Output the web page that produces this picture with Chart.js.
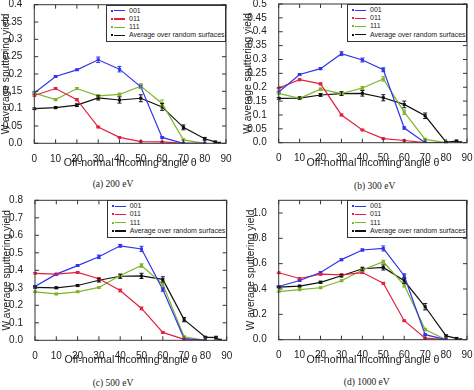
<!DOCTYPE html>
<html>
<head>
<meta charset="utf-8">
<script src="https://cdn.jsdelivr.net/npm/chart.js@4.4.1/dist/chart.umd.min.js"></script>
<style>
  html, body { margin: 0; padding: 0; background: #fff; }
  #fig { position: relative; width: 474px; height: 390px; overflow: hidden; background: #fff; }
  .panel { position: absolute; width: 237px; height: 175px; }
  .panel canvas { position: absolute; left: 0; top: 0; }
  .legend { position: absolute; box-sizing: border-box; border: 1px solid #333; background: #fff;
            font-family: "Liberation Sans", Arial, sans-serif; font-size: 7px; color: #222; padding-top: 1px; }
  .lrow { position: relative; height: 8.2px; line-height: 8.2px; white-space: nowrap; }
  .ldot { position: absolute; left: 4px; top: 3px; width: 2px; height: 2px; }
  .lline { position: absolute; left: 7px; top: 3.6px; width: 11px; height: 1.1px; }
  .ltext { position: absolute; left: 22px; top: 0; }
  .caption { position: absolute; font-family: "Liberation Serif", "Times New Roman", serif; font-size: 9.5px; color: #222;
             transform: translate(-50%, -50%); white-space: nowrap; }
</style>
</head>
<body>
<div id="fig"></div>
<script>
// ---------------- data ----------------
const angles = [0, 10, 20, 30, 40, 50, 60, 70, 80];
const avgAngles = [0, 10, 20, 30, 40, 50, 60, 70, 80, 85, 87];
const seriesNames = ['001', '011', '111', 'Average over random surfaces'];
const xTickValues = [0, 10, 20, 30, 40, 50, 60, 70, 80, 90];
const xTickLabels = ['0', '10', '20', '30', '40', '50', '60', '70', '80', '90'];
const captions = ['(a) 200 eV', '(b) 300 eV', '(c) 500 eV', '(d) 1000 eV'];

// (a) 200 eV
const a001 = [0.145, 0.193, 0.212, 0.241, 0.214, 0.163, 0.017, 0.0, 0.0];
const a011 = [0.138, 0.158, 0.126, 0.047, 0.017, 0.005, 0.004, 0.0, 0.0];
const a111 = [0.145, 0.126, 0.158, 0.137, 0.141, 0.165, 0.115, 0.010, 0.0];
const aAvg = [0.100, 0.103, 0.110, 0.131, 0.125, 0.130, 0.105, 0.046, 0.013, 0.004, 0.0];
const a001Err = [0.003, 0.002, 0.002, 0.008, 0.008, 0.005, 0.002, 0, 0];
const a011Err = [0.002, 0.002, 0.003, 0.002, 0.001, 0.001, 0.001, 0, 0];
const a111Err = [0.003, 0.002, 0.003, 0.003, 0.004, 0.007, 0.010, 0.002, 0];
const aAvgErr = [0.002, 0.002, 0.004, 0.006, 0.009, 0.010, 0.010, 0.007, 0.004, 0.002, 0];
const aYTicks = [0, 0.05, 0.1, 0.15, 0.2, 0.25, 0.3, 0.35, 0.4];
const aYLabels = ['0.0', '0.05', '0.1', '0.15', '0.2', '0.25', '0.3', '0.35', '0.4'];

// (b) 300 eV
const b001 = [0.183, 0.246, 0.267, 0.321, 0.298, 0.263, 0.053, 0.0, 0.0];
const b011 = [0.197, 0.227, 0.212, 0.100, 0.046, 0.015, 0.008, 0.0, 0.0];
const b111 = [0.178, 0.160, 0.193, 0.177, 0.197, 0.230, 0.110, 0.012, 0.0];
const bAvg = [0.160, 0.161, 0.172, 0.177, 0.178, 0.162, 0.138, 0.097, 0.002, 0.006, 0.0];
const b001Err = [0.003, 0.003, 0.003, 0.007, 0.007, 0.007, 0.004, 0, 0];
const b011Err = [0.002, 0.003, 0.003, 0.003, 0.002, 0.001, 0.001, 0, 0];
const b111Err = [0.003, 0.003, 0.004, 0.004, 0.005, 0.008, 0.008, 0.002, 0];
const bAvgErr = [0.003, 0.004, 0.005, 0.007, 0.010, 0.011, 0.012, 0.010, 0.002, 0.003, 0];
const bYTicks = [0, 0.05, 0.1, 0.15, 0.2, 0.25, 0.3, 0.35, 0.4, 0.45, 0.5];
const bYLabels = ['0.0', '0.05', '0.1', '0.15', '0.2', '0.25', '0.3', '0.35', '0.4', '0.45', '0.5'];

// (c) 500 eV
const c001 = [0.308, 0.378, 0.427, 0.477, 0.540, 0.522, 0.290, 0.010, 0.0];
const c011 = [0.383, 0.378, 0.388, 0.352, 0.285, 0.182, 0.045, 0.005, 0.0];
const c111 = [0.277, 0.265, 0.277, 0.302, 0.370, 0.427, 0.320, 0.020, 0.0];
const cAvg = [0.303, 0.300, 0.313, 0.343, 0.366, 0.368, 0.348, 0.118, 0.018, 0.015, 0.0];
const c001Err = [0.005, 0.004, 0.005, 0.010, 0.008, 0.015, 0.010, 0.003, 0];
const c011Err = [0.004, 0.004, 0.004, 0.006, 0.008, 0.008, 0.004, 0.001, 0];
const c111Err = [0.004, 0.004, 0.004, 0.004, 0.008, 0.010, 0.012, 0.004, 0];
const cAvgErr = [0.005, 0.005, 0.006, 0.010, 0.012, 0.015, 0.015, 0.012, 0.004, 0.008, 0];
const cYTicks = [0, 0.1, 0.2, 0.3, 0.4, 0.5, 0.6, 0.7, 0.8];
const cYLabels = ['0.0', '0.1', '0.2', '0.3', '0.4', '0.5', '0.6', '0.7', '0.8'];

// (d) 1000 eV
const d001 = [0.420, 0.467, 0.530, 0.632, 0.708, 0.720, 0.505, 0.040, 0.0];
const d011 = [0.528, 0.483, 0.517, 0.512, 0.530, 0.445, 0.150, 0.012, 0.0];
const d111 = [0.380, 0.395, 0.410, 0.465, 0.550, 0.615, 0.430, 0.080, 0.0];
const dAvg = [0.415, 0.423, 0.453, 0.505, 0.560, 0.570, 0.465, 0.260, 0.030, 0.010, 0.0];
const d001Err = [0.006, 0.006, 0.006, 0.008, 0.008, 0.020, 0.015, 0.005, 0];
const d011Err = [0.005, 0.005, 0.006, 0.006, 0.006, 0.006, 0.005, 0.003, 0];
const d111Err = [0.005, 0.005, 0.005, 0.006, 0.008, 0.012, 0.015, 0.010, 0];
const dAvgErr = [0.006, 0.006, 0.008, 0.010, 0.012, 0.020, 0.020, 0.025, 0.008, 0.008, 0];
const dYTicks = [0, 0.2, 0.4, 0.6, 0.8, 1.0];
const dYLabels = ['0.0', '0.2', '0.4', '0.6', '0.8', '1.0'];

// ---------------- styling / layout ----------------
const colors = ['#2f35ea', '#e3213f', '#7fb42a', '#111111'];
const FONT = '"Liberation Sans", Arial, sans-serif';
const TICK_SIZE = 10, XT_SIZE = 10.6, YT_SIZE = 10.2;

const panels = [
  { pos: [0, 0],   series: [a001, a011, a111, aAvg], errs: [a001Err, a011Err, a111Err, aAvgErr],
    yMax: 0.4, yT: aYTicks, yL: aYLabels, area: { l: 34.3, r: 226, t: 4.7, b: 143.3 }, yTitleX: 6, xTitleY: 163.5, cap: [113, 183.5] },
  { pos: [237, 0], series: [b001, b011, b111, bAvg], errs: [b001Err, b011Err, b111Err, bAvgErr],
    yMax: 0.5, yT: bYTicks, yL: bYLabels, area: { l: 41.7, r: 230, t: 4, b: 142.7 }, yTitleX: 11.3, xTitleY: 163.2, cap: [374.7, 185.5] },
  { pos: [0, 195], series: [c001, c011, c111, cAvg], errs: [c001Err, c011Err, c111Err, cAvgErr],
    yMax: 0.8, yT: cYTicks, yL: cYLabels, area: { l: 35, r: 226.7, t: 5.3, b: 145.3 }, yTitleX: 6.8, xTitleY: 165.5, cap: [113, 383] },
  { pos: [237, 195], series: [d001, d011, d111, dAvg], errs: [d001Err, d011Err, d111Err, dAvgErr],
    yMax: 1.1, yT: dYTicks, yL: dYLabels, area: { l: 41.7, r: 230, t: 5.3, b: 144.7 }, yTitleX: 14.3, xTitleY: 164.8, cap: [366.7, 381.5] }
];

const CW = 237, CH = 175;

// frame + inner mirrored ticks
const framePlugin = {
  id: 'frame',
  afterDatasetsDraw(chart) {
    const { ctx, chartArea: a, scales } = chart;
    ctx.save();
    ctx.strokeStyle = '#333';
    ctx.lineWidth = 1;
    ctx.beginPath();
    scales.y.ticks.forEach(t => {
      const y = scales.y.getPixelForValue(t.value);
      ctx.moveTo(a.left, y); ctx.lineTo(a.left + 4, y);
      ctx.moveTo(a.right, y); ctx.lineTo(a.right - 4, y);
    });
    scales.x.ticks.forEach(t => {
      const x = scales.x.getPixelForValue(t.value);
      ctx.moveTo(x, a.bottom); ctx.lineTo(x, a.bottom - 4);
      ctx.moveTo(x, a.top); ctx.lineTo(x, a.top + 4);
    });
    ctx.stroke();
    ctx.strokeRect(a.left, a.top, a.right - a.left, a.bottom - a.top);
    ctx.restore();
  }
};

// error bars drawn through the scales
const errorPlugin = {
  id: 'errbars',
  afterDatasetsDraw(chart) {
    const { ctx, scales } = chart;
    ctx.save();
    chart.data.datasets.forEach(ds => {
      if (!ds.errors) return;
      ctx.strokeStyle = ds.borderColor;
      ctx.lineWidth = 1;
      ds.data.forEach((p, i) => {
        const e = ds.errors[i];
        if (!e) return;
        const x = scales.x.getPixelForValue(p.x);
        const y1 = scales.y.getPixelForValue(p.y - e);
        const y2 = scales.y.getPixelForValue(p.y + e);
        ctx.beginPath();
        ctx.moveTo(x, y1); ctx.lineTo(x, y2);
        ctx.moveTo(x - 2, y1); ctx.lineTo(x + 2, y1);
        ctx.moveTo(x - 2, y2); ctx.lineTo(x + 2, y2);
        ctx.stroke();
      });
    });
    ctx.restore();
  }
};

const fig = document.getElementById('fig');

panels.forEach((P, pi) => {
  const div = document.createElement('div');
  div.className = 'panel';
  div.style.left = P.pos[0] + 'px';
  div.style.top = P.pos[1] + 'px';
  const cv = document.createElement('canvas');
  cv.width = CW; cv.height = CH;
  cv.style.width = CW + 'px'; cv.style.height = CH + 'px';
  div.appendChild(cv);
  fig.appendChild(div);

  const datasets = P.series.map((vals, si) => {
    const xs = si === 3 ? avgAngles : angles;
    return {
      label: seriesNames[si],
      data: vals.map((v, i) => ({ x: xs[i], y: v })),
      errors: P.errs[si],
      borderColor: colors[si],
      backgroundColor: colors[si],
      borderWidth: 1.2,
      pointStyle: 'rect',
      pointRadius: 1.3,
      pointHoverRadius: 1.3,
      tension: 0,
      fill: false
    };
  });

  const A = P.area;
  const xlh = XT_SIZE * 1.2, ylh = YT_SIZE * 1.2;

  const chart = new Chart(cv, {
    type: 'line',
    data: { datasets },
    plugins: [errorPlugin, framePlugin],
    options: {
      responsive: false,
      animation: false,
      devicePixelRatio: 1,
      layout: { padding: { left: 0, top: A.t, right: CW - A.r, bottom: 0 } },
      plugins: { legend: { display: false }, tooltip: { enabled: false } },
      scales: {
        x: {
          type: 'linear', min: 0, max: 90,
          grid: { display: false }, border: { display: false },
          afterBuildTicks: s => { s.ticks = xTickValues.map(v => ({ value: v })); },
          afterFit: s => { s.height = CH - A.b; s.paddingLeft = 0; s.paddingRight = 0; s.paddingTop = 0; s.paddingBottom = 0; },
          ticks: { callback: (v, i) => xTickLabels[i], color: '#222', font: { family: FONT, size: TICK_SIZE }, padding: 2, maxRotation: 0, autoSkip: false },
          title: { display: true, text: 'Off-normal incoming angle θ', color: '#222', font: { family: FONT, size: XT_SIZE },
                   padding: { top: 0, bottom: Math.max(0, CH - P.xTitleY - xlh / 2) } }
        },
        y: {
          type: 'linear', min: 0, max: P.yMax,
          grid: { display: false }, border: { display: false },
          afterBuildTicks: s => { s.ticks = P.yT.map(v => ({ value: v })); },
          afterFit: s => { s.width = A.l; s.paddingTop = 0; s.paddingBottom = 0; s.paddingLeft = 0; s.paddingRight = 0; },
          ticks: { callback: (v, i) => P.yL[i], color: '#222', font: { family: FONT, size: TICK_SIZE }, padding: 4, autoSkip: false },
          title: { display: true, text: 'W average sputtering yield', color: '#222', font: { family: FONT, size: YT_SIZE },
                   padding: { top: Math.max(0, P.yTitleX - ylh / 2), bottom: 0 } }
        }
      }
    }
  });

  // legend box in the top-right of the plot area
  const ca = chart.chartArea;
  const lg = document.createElement('div');
  lg.className = 'legend';
  const LW = 120, LH = 37.5;
  lg.style.left = (ca.right - LW) + 'px';
  lg.style.top = ca.top + 'px';
  lg.style.width = LW + 'px';
  lg.style.height = LH + 'px';
  seriesNames.forEach((name, si) => {
    const row = document.createElement('div');
    row.className = 'lrow';
    const dot = document.createElement('span'); dot.className = 'ldot'; dot.style.background = colors[si];
    const ln = document.createElement('span'); ln.className = 'lline'; ln.style.background = colors[si];
    const tx = document.createElement('span'); tx.className = 'ltext'; tx.textContent = name;
    row.appendChild(dot); row.appendChild(ln); row.appendChild(tx);
    lg.appendChild(row);
  });
  div.appendChild(lg);

  const cap = document.createElement('div');
  cap.className = 'caption';
  cap.textContent = captions[pi];
  cap.style.left = P.cap[0] + 'px';
  cap.style.top = P.cap[1] + 'px';
  fig.appendChild(cap);
});
</script>
</body>
</html>
